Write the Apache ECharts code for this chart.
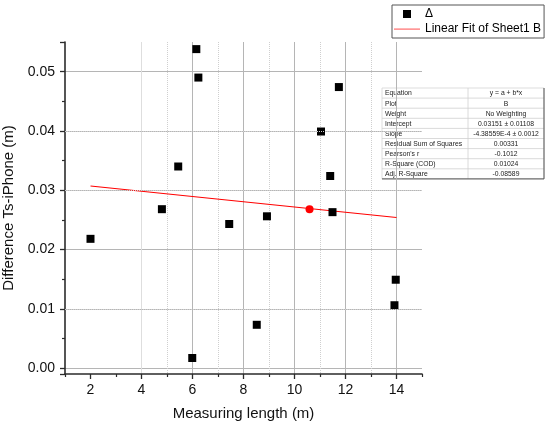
<!DOCTYPE html>
<html>
<head>
<meta charset="utf-8">
<script src="https://cdn.jsdelivr.net/npm/echarts@6/dist/echarts.min.js"></script>
<style>
html,body{margin:0;padding:0;background:#ffffff;}
#chart{width:550px;height:429px;}
</style>
</head>
<body>
<div id="chart"></div>
<script>
// ---- data ----
const deltaX = [2.0, 4.8, 5.44, 5.99, 6.15, 6.23, 7.44, 8.52, 8.92, 11.04, 11.40, 11.49, 11.74, 13.92, 13.97];
const deltaY = [0.0218, 0.0268, 0.0340, 0.0017, 0.0538, 0.0490, 0.0243, 0.0073, 0.0256, 0.0399, 0.0324, 0.0263, 0.0474, 0.0106, 0.0149];
const fitX = [2, 14];
const fitY = [0.0307, 0.0254];
const meanX = [10.59];
const meanY = [0.0268];
const xMajorTicks = [2, 4, 6, 8, 10, 12, 14];
const yMinorGrid = [0.005, 0.015, 0.025, 0.035, 0.045];
const legendNames = ['\u0394', 'Linear Fit of Sheet1 B'];
const xTitle = 'Measuring length (m)';
const yTitle = 'Difference Ts-iPhone (m)';
const tableLabels = ['Equation', 'Plot', 'Weight', 'Intercept', 'Slope', 'Residual Sum of Squares', "Pearson's r", 'R-Square (COD)', 'Adj. R-Square'];
const tableValues = ['y = a + b*x', 'B', 'No Weighting', '0.03151 \u00b1 0.01108', '-4.38559E-4 \u00b1 0.0012', '0.00331', '-0.1012', '0.01024', '-0.08589'];

// ---- chart ----
const FONT = 'Liberation Sans, Arial, sans-serif';
const AXIS_COLOR = '#2b2b2b';
const GRID_MAJOR = '#b5b5b5';
const GRID_MINOR = '#cfcfcf';

const chart = echarts.init(document.getElementById('chart'));

const tblW1 = 86, tblW2 = 76, rowH = 10.1;
const tblW = tblW1 + tblW2, tblH = rowH * tableLabels.length;
const tableChildren = [{
  type: 'rect', shape: {x: 0, y: 0, width: tblW, height: tblH},
  style: {fill: '#ffffff', stroke: '#d4d4d4', lineWidth: 0.8}
}];
tableLabels.forEach(function (lab, i) {
  if (i > 0) {
    tableChildren.push({type: 'line', shape: {x1: 0, y1: i * rowH, x2: tblW, y2: i * rowH},
      style: {stroke: '#d0d0d0', lineWidth: 0.8}});
  }
  tableChildren.push({type: 'text', style: {text: lab, x: 3, y: i * rowH + rowH / 2 + 0.5,
    fontSize: 6.8, fontFamily: FONT, fill: '#222', align: 'left', verticalAlign: 'middle',
    textAlign: 'left', textVerticalAlign: 'middle'}});
  tableChildren.push({type: 'text', style: {text: tableValues[i], x: tblW1 + tblW2 / 2, y: i * rowH + rowH / 2 + 0.5,
    fontSize: 6.8, fontFamily: FONT, fill: '#222', align: 'center', verticalAlign: 'middle',
    textAlign: 'center', textVerticalAlign: 'middle'}});
});
tableChildren.push({type: 'line', shape: {x1: tblW1, y1: 0, x2: tblW1, y2: tblH}, style: {stroke: '#d0d0d0', lineWidth: 0.8}});
tableChildren.push({type: 'line', shape: {x1: tblW, y1: 0, x2: tblW, y2: tblH}, style: {stroke: '#555', lineWidth: 1}});
tableChildren.push({type: 'line', shape: {x1: 0, y1: tblH, x2: tblW, y2: tblH}, style: {stroke: '#555', lineWidth: 1}});

// legend icons: square centred in a 26x8 box, and a thin horizontal line
const squareIcon = 'path://M0,0 L0,0 M9,0 L17,0 L17,8 L9,8 Z M26,8 L26,8';
const lineIcon = 'path://M0,0 L0,0 M0,3.5 L26,3.5 L26,4.7 L0,4.7 Z M26,8 L26,8';

const option = {
  animation: false,
  backgroundColor: '#ffffff',
  textStyle: {fontFamily: FONT},
  grid: {left: 65, right: 128, top: 42, bottom: 55, containLabel: false, outerBoundsMode: 'none'},
  legend: {
    left: 392, top: 5, orient: 'vertical',
    padding: [2, 3, 2, 2], itemGap: 1, itemWidth: 26, itemHeight: 8,
    borderColor: '#555', borderWidth: 1, backgroundColor: '#ffffff',
    textStyle: {fontSize: 12, color: '#000', fontFamily: FONT, lineHeight: 14},
    data: [
      {name: legendNames[0], icon: squareIcon, itemStyle: {color: '#000000'}},
      {name: legendNames[1], icon: lineIcon, itemStyle: {color: '#ff6a6a'}}
    ],
    selectedMode: false
  },
  xAxis: [{
    type: 'value', min: 1, max: 15, splitNumber: 7, position: 'bottom',
    axisLine: {show: true, onZero: false, lineStyle: {color: AXIS_COLOR, width: 1.6}},
    axisTick: {show: true, inside: false, length: 5, lineStyle: {color: AXIS_COLOR, width: 1.3}, customValues: xMajorTicks},
    axisLabel: {show: true, margin: 9, fontSize: 14, color: '#111', fontFamily: FONT, customValues: xMajorTicks},
    splitLine: {show: true, showMinLine: true, showMaxLine: true,
      lineStyle: {color: ['rgba(0,0,0,0)', '#dedede', GRID_MAJOR, GRID_MAJOR, GRID_MAJOR, GRID_MAJOR, GRID_MAJOR], width: 1}},
    name: xTitle, nameLocation: 'middle', nameGap: 32,
    nameTextStyle: {fontSize: 15, color: '#111', fontFamily: FONT}
  }, {
    type: 'value', min: 1, max: 15, interval: 2, position: 'bottom',
    axisLine: {show: false, onZero: false},
    axisTick: {show: true, inside: false, length: 3, lineStyle: {color: AXIS_COLOR, width: 1.2}},
    axisLabel: {show: false},
    splitLine: {show: true, showMinLine: true, showMaxLine: true,
      lineStyle: {color: ['rgba(0,0,0,0)', 'rgba(0,0,0,0)', GRID_MINOR, GRID_MINOR, GRID_MINOR, GRID_MINOR, GRID_MINOR, 'rgba(0,0,0,0)'], width: 1, type: 'dotted'}}
  }],
  yAxis: [{
    type: 'value', min: -0.001, max: 0.055, splitNumber: 5, position: 'left',
    axisLine: {show: true, onZero: false, lineStyle: {color: AXIS_COLOR, width: 1.6}},
    axisTick: {show: true, inside: false, length: 5, lineStyle: {color: AXIS_COLOR, width: 1.3}},
    minorTick: {show: true, splitNumber: 2, length: 3, lineStyle: {color: AXIS_COLOR, width: 1.2}},
    axisLabel: {show: true, margin: 10, fontSize: 14, color: '#111', fontFamily: FONT,
      showMinLabel: false, showMaxLabel: false,
      formatter: function (v) { return v.toFixed(2); }},
    splitLine: {show: true, showMinLine: false, showMaxLine: false, lineStyle: {color: GRID_MAJOR, width: 1}},
    name: yTitle, nameLocation: 'middle', nameGap: 49, nameRotate: 90,
    nameTextStyle: {fontSize: 15, color: '#111', fontFamily: FONT}
  }],
  graphic: [{
    type: 'group', x: 382, y: 88, z: 100, silent: true,
    children: tableChildren
  }],
  series: [{
    name: '_minorgrid', type: 'line', data: [], xAxisIndex: 0, yAxisIndex: 0, z: 1, silent: true,
    markLine: {
      silent: true, symbol: 'none', animation: false, label: {show: false},
      lineStyle: {type: 'dotted', color: GRID_MINOR, width: 1},
      emphasis: {disabled: true},
      data: yMinorGrid.map(function (v) { return {yAxis: v}; })
    }
  }, {
    name: legendNames[1], type: 'line', xAxisIndex: 0, yAxisIndex: 0, z: 3,
    symbol: 'none', showSymbol: false, silent: true,
    lineStyle: {color: '#ff0000', width: 1.1}, itemStyle: {color: '#ff0000'},
    data: fitX.map(function (x, i) { return [x, fitY[i]]; })
  }, {
    name: legendNames[0], type: 'scatter', xAxisIndex: 0, yAxisIndex: 0, z: 4,
    symbol: 'rect', symbolSize: 8, itemStyle: {color: '#000000', opacity: 1},
    data: deltaX.map(function (x, i) { return [x, deltaY[i]]; })
  }, {
    name: 'mean', type: 'scatter', xAxisIndex: 0, yAxisIndex: 0, z: 5,
    symbol: 'circle', symbolSize: 8, itemStyle: {color: '#ff0000', opacity: 1},
    data: meanX.map(function (x, i) { return [x, meanY[i]]; })
  }]
};
chart.setOption(option);
</script>
</body>
</html>
